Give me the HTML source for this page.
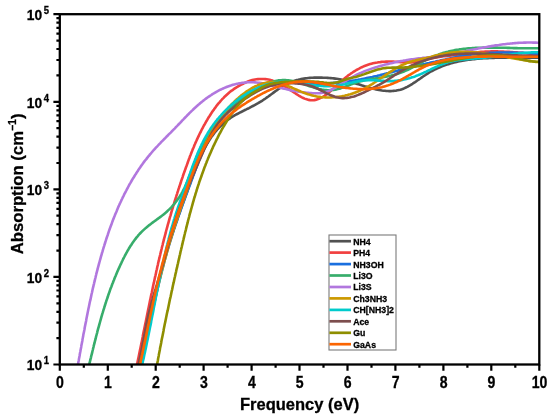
<!DOCTYPE html>
<html><head><meta charset="utf-8"><title>Absorption</title>
<style>html,body{margin:0;padding:0;background:#fff;width:550px;height:417px;overflow:hidden}svg{display:block}.t{font-family:"Liberation Sans",sans-serif;font-weight:bold;fill:#000;stroke:#000;stroke-width:.3px}</style>
</head><body>
<svg width="550" height="417" viewBox="0 0 550 417">
<defs><clipPath id="c"><rect x="59.8" y="14.2" width="479.5" height="350.3"/></clipPath></defs>
<g clip-path="url(#c)" fill="none" stroke-width="2.60" stroke-linejoin="round" stroke-linecap="round">
<path stroke="#515151" d="M138.6 372.0L139.0 370.5 139.3 369.1 139.6 367.6 140.0 366.2 140.3 364.7 140.6 363.3 141.0 361.8 141.3 360.3 141.6 358.9 141.9 357.4 142.2 356.0 142.6 354.5 142.9 353.1 143.2 351.6 143.5 350.1 143.8 348.7 144.2 347.2 144.5 345.7 144.8 344.3 145.1 342.8 145.4 341.3 145.7 339.9 146.0 338.4 146.3 336.9 146.7 335.5 147.0 334.0 147.3 332.5 147.6 331.1 147.9 329.6 148.2 328.1 148.5 326.7 148.8 325.2 149.2 323.7 149.5 322.3 149.8 320.8 150.1 319.3 150.4 317.9 150.7 316.4 151.0 314.9 151.4 313.4 151.7 312.0 152.0 310.5 152.3 309.0 152.6 307.6 153.0 306.1 153.3 304.6 153.6 303.2 153.9 301.7 154.3 300.2 154.6 298.8 154.9 297.3 155.2 295.8 155.6 294.4 155.9 292.9 156.3 291.4 156.6 290.0 156.9 288.5 157.3 287.1 157.6 285.6 158.0 284.1 158.3 282.7 158.7 281.2 159.0 279.8 159.4 278.3 159.8 276.9 160.1 275.4 160.5 274.0 160.9 272.5 161.2 271.0 161.6 269.6 162.0 268.1 162.4 266.7 162.8 265.3 163.2 263.8 163.6 262.4 164.0 260.9 164.4 259.5 164.8 258.0 165.2 256.6 165.6 255.2 166.0 253.7 166.4 252.3 166.8 250.9 167.3 249.4 167.7 248.0 168.1 246.6 168.6 245.2 169.0 243.7 169.5 242.3 169.9 240.9 170.4 239.5 170.8 238.0 171.3 236.6 171.8 235.2 172.2 233.8 172.7 232.4 173.2 231.0 173.7 229.5 174.1 228.1 174.6 226.7 175.1 225.3 175.6 223.9 176.1 222.5 176.6 221.1 177.1 219.7 177.6 218.2 178.1 216.8 178.6 215.4 179.1 214.0 179.6 212.6 180.1 211.2 180.6 209.8 181.1 208.4 181.6 207.0 182.1 205.5 182.6 204.1 183.1 202.7 183.6 201.3 184.1 199.9 184.6 198.5 185.2 197.1 185.7 195.6 186.2 194.2 186.7 192.8 187.2 191.4 187.7 190.0 188.2 188.5 188.7 187.1 189.2 185.7 189.8 184.3 190.3 182.8 190.8 181.4 191.3 180.0 191.8 178.6 192.4 177.2 192.9 175.7 193.4 174.3 193.9 172.9 194.5 171.5 195.0 170.1 195.6 168.7 196.1 167.3 196.7 165.9 197.3 164.5 197.8 163.1 198.4 161.7 199.0 160.3 199.6 159.0 200.2 157.6 200.8 156.2 201.5 154.9 202.1 153.5 202.7 152.2 203.4 150.9 204.0 149.5 204.7 148.2 205.4 146.9 206.1 145.6 206.8 144.3 207.6 143.1 208.3 141.8 209.1 140.5 209.9 139.3 210.7 138.0 211.5 136.8 212.4 135.6 213.3 134.4 214.2 133.2 215.2 132.0 216.1 130.9 217.1 129.7 218.2 128.6 219.2 127.5 220.3 126.4 221.4 125.3 222.5 124.3 223.6 123.2 224.8 122.2 226.0 121.3 227.2 120.3 228.4 119.4 229.6 118.6 230.8 117.7 232.1 116.9 233.3 116.2 234.6 115.4 235.9 114.7 237.2 114.0 238.5 113.3 239.8 112.6 241.1 112.0 242.4 111.3 243.7 110.7 245.0 110.0 246.3 109.4 247.7 108.7 249.0 108.1 250.3 107.4 251.6 106.7 252.9 106.0 254.2 105.3 255.5 104.6 256.8 103.9 258.1 103.2 259.4 102.4 260.7 101.6 262.0 100.8 263.2 100.0 264.5 99.2 265.8 98.3 267.0 97.4 268.3 96.5 269.5 95.6 270.7 94.7 272.0 93.8 273.2 92.9 274.5 91.9 275.7 91.0 277.0 90.1 278.2 89.2 279.5 88.4 280.7 87.5 282.0 86.7 283.3 85.9 284.6 85.2 285.9 84.4 287.2 83.8 288.6 83.1 289.9 82.5 291.3 82.0 292.6 81.5 294.0 81.0 295.4 80.5 296.8 80.1 298.2 79.8 299.6 79.4 301.1 79.1 302.5 78.8 304.0 78.6 305.4 78.4 306.9 78.2 308.3 78.0 309.8 77.9 311.3 77.8 312.8 77.7 314.2 77.6 315.7 77.6 317.2 77.6 318.7 77.6 320.2 77.6 321.7 77.6 323.2 77.7 324.7 77.7 326.2 77.8 327.7 77.9 329.2 78.0 330.7 78.1 332.2 78.3 333.7 78.4 335.2 78.6 336.7 78.8 338.2 79.0 339.7 79.3 341.1 79.6 342.6 79.9 344.1 80.2 345.5 80.6 347.0 80.9 348.5 81.3 349.9 81.7 351.4 82.1 352.8 82.6 354.3 83.0 355.7 83.4 357.2 83.9 358.6 84.3 360.1 84.8 361.5 85.3 363.0 85.7 364.4 86.2 365.9 86.6 367.3 87.0 368.8 87.5 370.2 87.9 371.7 88.3 373.2 88.7 374.6 89.0 376.1 89.4 377.6 89.7 379.0 90.0 380.5 90.2 382.0 90.5 383.4 90.7 384.9 90.8 386.3 91.0 387.8 91.0 389.2 91.1 390.7 91.1 392.1 91.0 393.5 90.9 394.9 90.8 396.3 90.6 397.7 90.3 399.1 90.0 400.5 89.7 401.9 89.2 403.2 88.7 404.6 88.1 405.9 87.5 407.3 86.9 408.6 86.1 409.9 85.4 411.2 84.6 412.5 83.8 413.8 82.9 415.1 82.1 416.4 81.2 417.7 80.3 419.0 79.4 420.3 78.5 421.5 77.6 422.8 76.7 424.1 75.8 425.4 75.0 426.7 74.1 428.0 73.3 429.3 72.5 430.6 71.7 432.0 71.0 433.3 70.3 434.6 69.6 435.9 69.0 437.3 68.3 438.6 67.7 440.0 67.2 441.4 66.6 442.7 66.1 444.1 65.6 445.5 65.1 446.9 64.6 448.3 64.2 449.7 63.7 451.1 63.3 452.5 62.9 453.9 62.6 455.3 62.2 456.7 61.9 458.2 61.6 459.6 61.3 461.1 61.0 462.5 60.7 464.0 60.5 465.4 60.2 466.9 60.0 468.4 59.8 469.9 59.6 471.3 59.4 472.8 59.2 474.3 59.1 475.8 58.9 477.3 58.8 478.8 58.7 480.3 58.5 481.8 58.4 483.3 58.3 484.8 58.2 486.4 58.2 487.9 58.1 489.4 58.0 490.9 58.0 492.4 57.9 493.9 57.9 495.5 57.8 497.0 57.8 498.5 57.8 500.0 57.7 501.6 57.7 503.1 57.7 504.6 57.7 506.1 57.7 507.6 57.7 509.2 57.7 510.7 57.7 512.2 57.7 513.7 57.7 515.2 57.7 516.7 57.7 518.2 57.7 519.7 57.7 521.3 57.7 522.8 57.7 524.3 57.7 525.7 57.7 527.2 57.7 528.7 57.7 530.2 57.7 531.7 57.7 533.2 57.6 534.6 57.6 536.1 57.6 537.6 57.6 539.0 57.5 540.5 57.5 541.9 57.4"/>
<path stroke="#F14040" d="M135.4 371.8L135.7 370.4 136.0 368.9 136.3 367.5 136.7 366.1 137.0 364.6 137.3 363.2 137.6 361.7 137.9 360.3 138.2 358.8 138.5 357.4 138.8 355.9 139.1 354.5 139.4 353.0 139.7 351.6 140.0 350.1 140.3 348.7 140.6 347.2 140.9 345.7 141.2 344.3 141.5 342.8 141.8 341.4 142.1 339.9 142.4 338.5 142.7 337.0 142.9 335.5 143.2 334.1 143.5 332.6 143.8 331.1 144.1 329.7 144.4 328.2 144.7 326.8 145.0 325.3 145.3 323.8 145.6 322.4 145.9 320.9 146.2 319.4 146.5 318.0 146.8 316.5 147.1 315.0 147.4 313.6 147.7 312.1 148.0 310.6 148.3 309.1 148.6 307.7 148.9 306.2 149.2 304.7 149.5 303.3 149.8 301.8 150.1 300.3 150.4 298.9 150.7 297.4 151.0 295.9 151.3 294.4 151.7 293.0 152.0 291.5 152.3 290.0 152.6 288.6 152.9 287.1 153.2 285.6 153.5 284.2 153.9 282.7 154.2 281.2 154.5 279.7 154.8 278.3 155.1 276.8 155.5 275.3 155.8 273.9 156.1 272.4 156.4 270.9 156.8 269.5 157.1 268.0 157.4 266.5 157.8 265.1 158.1 263.6 158.4 262.1 158.8 260.7 159.1 259.2 159.5 257.7 159.8 256.3 160.2 254.8 160.5 253.3 160.9 251.9 161.2 250.4 161.6 249.0 161.9 247.5 162.3 246.0 162.7 244.6 163.0 243.1 163.4 241.7 163.8 240.2 164.1 238.7 164.5 237.3 164.9 235.8 165.3 234.4 165.7 232.9 166.0 231.5 166.4 230.0 166.8 228.6 167.2 227.1 167.6 225.7 168.0 224.2 168.4 222.8 168.8 221.3 169.2 219.9 169.6 218.4 170.0 217.0 170.5 215.6 170.9 214.1 171.3 212.7 171.7 211.2 172.1 209.8 172.6 208.4 173.0 206.9 173.4 205.5 173.9 204.1 174.3 202.6 174.7 201.2 175.2 199.8 175.6 198.4 176.1 196.9 176.5 195.5 177.0 194.1 177.4 192.7 177.9 191.2 178.3 189.8 178.8 188.4 179.3 187.0 179.7 185.6 180.2 184.2 180.7 182.8 181.1 181.3 181.6 179.9 182.1 178.5 182.6 177.1 183.0 175.7 183.5 174.3 184.0 172.9 184.5 171.5 185.0 170.1 185.5 168.7 186.0 167.3 186.5 166.0 187.0 164.6 187.5 163.2 188.0 161.8 188.5 160.4 189.0 159.0 189.5 157.7 190.0 156.3 190.6 154.9 191.1 153.5 191.6 152.2 192.2 150.8 192.7 149.4 193.3 148.1 193.9 146.7 194.4 145.3 195.0 144.0 195.6 142.6 196.2 141.3 196.8 139.9 197.4 138.6 198.1 137.2 198.7 135.9 199.3 134.5 200.0 133.2 200.7 131.9 201.3 130.5 202.0 129.2 202.7 127.9 203.4 126.5 204.1 125.2 204.9 123.9 205.6 122.6 206.4 121.2 207.2 119.9 207.9 118.6 208.7 117.3 209.6 116.0 210.4 114.7 211.2 113.4 212.1 112.1 213.0 110.8 213.9 109.6 214.8 108.3 215.7 107.1 216.6 105.8 217.5 104.6 218.5 103.4 219.5 102.3 220.5 101.1 221.5 100.0 222.5 98.9 223.6 97.8 224.6 96.7 225.7 95.7 226.8 94.7 227.9 93.7 229.0 92.7 230.1 91.8 231.3 90.9 232.5 90.1 233.7 89.2 234.9 88.4 236.1 87.6 237.3 86.9 238.6 86.1 239.9 85.4 241.2 84.7 242.5 84.0 243.8 83.3 245.2 82.7 246.5 82.1 247.9 81.5 249.3 81.0 250.7 80.5 252.2 80.1 253.6 79.8 255.1 79.5 256.5 79.3 258.0 79.1 259.5 79.0 261.0 79.0 262.4 79.0 263.9 79.0 265.4 79.1 266.8 79.3 268.3 79.5 269.7 79.8 271.1 80.2 272.6 80.6 273.9 81.1 275.3 81.6 276.7 82.2 278.0 82.8 279.4 83.4 280.7 84.1 282.0 84.8 283.4 85.6 284.7 86.4 286.0 87.2 287.3 88.0 288.6 88.9 289.9 89.7 291.2 90.6 292.5 91.5 293.9 92.4 295.2 93.2 296.5 94.1 297.9 95.0 299.2 95.8 300.6 96.6 301.9 97.3 303.3 98.0 304.6 98.6 306.0 99.1 307.4 99.5 308.7 99.9 310.1 100.1 311.4 100.2 312.8 100.2 314.1 100.1 315.5 99.9 316.8 99.5 318.1 99.1 319.4 98.5 320.7 97.9 322.0 97.3 323.3 96.5 324.5 95.8 325.7 94.9 326.9 94.1 328.1 93.2 329.2 92.3 330.4 91.3 331.5 90.3 332.6 89.3 333.8 88.3 334.9 87.3 336.0 86.3 337.1 85.2 338.2 84.2 339.3 83.1 340.5 82.1 341.6 81.1 342.8 80.0 343.9 79.0 345.1 78.0 346.3 77.0 347.5 76.1 348.7 75.1 350.0 74.2 351.2 73.3 352.5 72.5 353.8 71.6 355.1 70.8 356.4 70.0 357.7 69.3 359.1 68.6 360.4 67.9 361.8 67.2 363.1 66.6 364.5 66.0 365.9 65.5 367.3 65.0 368.7 64.5 370.1 64.1 371.5 63.7 372.9 63.3 374.4 63.0 375.8 62.7 377.3 62.5 378.7 62.2 380.2 62.1 381.6 61.9 383.1 61.8 384.5 61.7 386.0 61.6 387.5 61.6 388.9 61.5 390.4 61.5 391.9 61.6 393.4 61.6 394.8 61.7 396.3 61.8 397.8 61.9 399.3 62.0 400.7 62.1 402.2 62.2 403.7 62.3 405.2 62.4 406.6 62.4 408.1 62.4 409.6 62.4 411.1 62.4 412.6 62.2 414.0 62.1 415.5 61.9 417.0 61.7 418.5 61.4 420.0 61.1 421.4 60.8 422.9 60.5 424.4 60.1 425.9 59.7 427.4 59.4 428.8 59.0 430.3 58.7 431.8 58.3 433.3 58.0 434.8 57.7 436.3 57.4 437.7 57.1 439.2 56.9 440.7 56.7 442.2 56.5 443.7 56.3 445.2 56.1 446.6 56.0 448.1 55.8 449.6 55.7 451.1 55.5 452.6 55.3 454.1 55.1 455.6 54.9 457.0 54.7 458.5 54.5 460.0 54.3 461.5 54.1 463.0 53.9 464.5 53.7 466.0 53.5 467.5 53.3 469.0 53.2 470.4 53.0 471.9 52.8 473.4 52.6 474.9 52.5 476.4 52.3 477.9 52.2 479.4 52.0 480.9 51.9 482.4 51.8 483.8 51.7 485.3 51.6 486.8 51.6 488.3 51.5 489.8 51.5 491.3 51.4 492.8 51.4 494.3 51.4 495.8 51.4 497.3 51.4 498.7 51.5 500.2 51.5 501.7 51.6 503.2 51.6 504.7 51.7 506.2 51.8 507.7 51.8 509.2 51.9 510.7 52.0 512.2 52.1 513.7 52.2 515.1 52.3 516.6 52.4 518.1 52.6 519.6 52.7 521.1 52.8 522.6 52.9 524.1 53.1 525.6 53.2 527.1 53.3 528.6 53.5 530.1 53.6 531.5 53.7 533.0 53.9 534.5 54.0 536.0 54.1 537.5 54.3 539.0 54.4 540.5 54.5 542.0 54.6"/>
<path stroke="#1A6FDF" d="M139.5 372.0L139.9 370.5 140.2 369.1 140.5 367.6 140.8 366.2 141.1 364.7 141.5 363.3 141.8 361.8 142.1 360.3 142.4 358.9 142.7 357.4 143.0 356.0 143.4 354.5 143.7 353.1 144.0 351.6 144.3 350.1 144.6 348.7 144.9 347.2 145.2 345.7 145.5 344.3 145.8 342.8 146.1 341.4 146.5 339.9 146.8 338.4 147.1 337.0 147.4 335.5 147.7 334.0 148.0 332.6 148.3 331.1 148.6 329.6 148.9 328.2 149.2 326.7 149.5 325.2 149.9 323.8 150.2 322.3 150.5 320.8 150.8 319.4 151.1 317.9 151.4 316.4 151.7 315.0 152.0 313.5 152.4 312.0 152.7 310.6 153.0 309.1 153.3 307.6 153.6 306.2 154.0 304.7 154.3 303.2 154.6 301.8 154.9 300.3 155.3 298.8 155.6 297.4 155.9 295.9 156.3 294.4 156.6 293.0 156.9 291.5 157.3 290.1 157.6 288.6 158.0 287.1 158.3 285.7 158.6 284.2 159.0 282.8 159.3 281.3 159.7 279.9 160.1 278.4 160.4 276.9 160.8 275.5 161.1 274.0 161.5 272.6 161.9 271.1 162.2 269.7 162.6 268.2 163.0 266.8 163.4 265.4 163.8 263.9 164.1 262.5 164.5 261.0 164.9 259.6 165.3 258.1 165.7 256.7 166.1 255.3 166.5 253.8 166.9 252.4 167.3 251.0 167.8 249.5 168.2 248.1 168.6 246.7 169.0 245.3 169.5 243.8 169.9 242.4 170.3 241.0 170.8 239.6 171.2 238.1 171.7 236.7 172.1 235.3 172.6 233.9 173.0 232.5 173.5 231.0 173.9 229.6 174.4 228.2 174.9 226.8 175.3 225.4 175.8 224.0 176.3 222.6 176.8 221.2 177.3 219.7 177.7 218.3 178.2 216.9 178.7 215.5 179.2 214.1 179.7 212.7 180.2 211.3 180.7 209.9 181.2 208.4 181.7 207.0 182.2 205.6 182.7 204.2 183.2 202.8 183.7 201.4 184.3 200.0 184.8 198.6 185.3 197.1 185.8 195.7 186.3 194.3 186.9 192.9 187.4 191.5 187.9 190.1 188.5 188.6 189.0 187.2 189.5 185.8 190.1 184.4 190.6 183.0 191.1 181.5 191.6 180.1 192.2 178.7 192.7 177.3 193.2 175.8 193.8 174.4 194.3 173.0 194.8 171.6 195.3 170.2 195.8 168.8 196.4 167.4 196.9 165.9 197.4 164.5 197.9 163.1 198.4 161.7 198.9 160.3 199.4 158.9 199.9 157.5 200.4 156.1 200.9 154.8 201.4 153.4 202.0 152.0 202.5 150.6 203.0 149.3 203.6 147.9 204.1 146.5 204.6 145.2 205.2 143.8 205.8 142.5 206.4 141.1 207.0 139.8 207.6 138.5 208.3 137.2 208.9 135.8 209.6 134.5 210.3 133.2 211.1 131.9 211.8 130.6 212.6 129.4 213.4 128.1 214.3 126.8 215.2 125.6 216.1 124.3 217.0 123.1 217.9 121.9 218.9 120.7 219.8 119.6 220.8 118.5 221.8 117.3 222.9 116.3 223.9 115.2 224.9 114.2 226.0 113.2 227.1 112.2 228.1 111.2 229.2 110.3 230.3 109.3 231.4 108.3 232.4 107.3 233.5 106.3 234.6 105.3 235.7 104.3 236.9 103.3 238.0 102.3 239.1 101.3 240.2 100.3 241.4 99.3 242.5 98.3 243.7 97.3 244.9 96.3 246.1 95.4 247.3 94.4 248.5 93.5 249.8 92.7 251.0 91.8 252.3 91.1 253.6 90.3 254.9 89.7 256.2 89.0 257.6 88.4 258.9 87.8 260.3 87.3 261.7 86.7 263.1 86.2 264.5 85.7 265.9 85.3 267.3 84.8 268.7 84.4 270.2 84.0 271.6 83.6 273.1 83.3 274.5 83.0 276.0 82.7 277.5 82.5 279.0 82.3 280.5 82.2 281.9 82.1 283.4 82.0 284.9 82.0 286.4 82.0 287.9 82.1 289.5 82.1 291.0 82.2 292.5 82.3 294.0 82.4 295.5 82.5 297.0 82.7 298.5 82.8 300.0 82.9 301.5 83.1 303.0 83.2 304.5 83.4 306.0 83.5 307.5 83.6 309.0 83.8 310.5 83.9 312.0 83.9 313.5 84.0 314.9 84.0 316.4 84.0 317.9 84.0 319.4 84.0 320.9 83.9 322.4 83.8 323.9 83.7 325.4 83.6 326.8 83.5 328.3 83.4 329.8 83.2 331.3 83.1 332.8 83.0 334.2 82.8 335.7 82.7 337.2 82.5 338.7 82.4 340.1 82.2 341.6 82.0 343.1 81.9 344.6 81.7 346.0 81.5 347.5 81.3 349.0 81.1 350.5 80.9 351.9 80.7 353.4 80.5 354.9 80.3 356.3 80.0 357.8 79.8 359.3 79.5 360.7 79.3 362.2 79.0 363.7 78.7 365.1 78.4 366.6 78.1 368.1 77.8 369.5 77.5 371.0 77.2 372.4 76.9 373.9 76.5 375.4 76.2 376.8 75.9 378.3 75.5 379.8 75.2 381.2 74.8 382.7 74.4 384.1 74.1 385.6 73.7 387.1 73.3 388.5 73.0 390.0 72.6 391.4 72.2 392.9 71.8 394.4 71.5 395.8 71.1 397.3 70.7 398.7 70.3 400.2 70.0 401.6 69.6 403.1 69.2 404.6 68.8 406.0 68.5 407.5 68.1 408.9 67.7 410.4 67.4 411.8 67.0 413.3 66.7 414.8 66.3 416.2 66.0 417.7 65.6 419.1 65.3 420.6 65.0 422.0 64.6 423.5 64.3 425.0 64.0 426.4 63.6 427.9 63.3 429.3 63.0 430.8 62.6 432.3 62.3 433.7 62.0 435.2 61.7 436.6 61.3 438.1 61.0 439.6 60.7 441.0 60.3 442.5 60.0 443.9 59.7 445.4 59.4 446.9 59.0 448.3 58.7 449.8 58.4 451.3 58.1 452.7 57.8 454.2 57.5 455.7 57.2 457.1 56.9 458.6 56.6 460.1 56.3 461.5 56.1 463.0 55.8 464.5 55.6 465.9 55.3 467.4 55.1 468.9 54.9 470.4 54.7 471.8 54.5 473.3 54.3 474.8 54.1 476.2 53.9 477.7 53.8 479.2 53.7 480.7 53.5 482.2 53.4 483.6 53.3 485.1 53.2 486.6 53.1 488.1 53.0 489.6 52.9 491.0 52.8 492.5 52.8 494.0 52.7 495.5 52.7 497.0 52.6 498.5 52.6 500.0 52.6 501.5 52.6 502.9 52.5 504.4 52.5 505.9 52.5 507.4 52.5 508.9 52.6 510.4 52.6 511.9 52.6 513.4 52.6 514.9 52.7 516.4 52.7 517.9 52.7 519.4 52.8 520.9 52.8 522.4 52.9 523.9 53.0 525.5 53.0 527.0 53.1 528.5 53.2 530.0 53.2 531.5 53.3 533.0 53.4 534.5 53.5 536.1 53.5 537.6 53.6 539.1 53.7 540.6 53.8 542.2 53.9"/>
<path stroke="#37AD6B" d="M87.5 372.0L87.8 370.5 88.2 369.0 88.5 367.6 88.9 366.1 89.2 364.6 89.6 363.2 89.9 361.7 90.3 360.2 90.6 358.8 91.0 357.3 91.3 355.8 91.7 354.4 92.1 352.9 92.4 351.5 92.8 350.0 93.1 348.5 93.5 347.1 93.8 345.6 94.2 344.2 94.6 342.7 94.9 341.3 95.3 339.8 95.7 338.4 96.0 336.9 96.4 335.5 96.8 334.0 97.2 332.6 97.5 331.1 97.9 329.7 98.3 328.2 98.7 326.8 99.1 325.3 99.5 323.9 99.9 322.5 100.3 321.0 100.7 319.6 101.1 318.2 101.5 316.7 101.9 315.3 102.3 313.9 102.8 312.4 103.2 311.0 103.6 309.6 104.1 308.2 104.5 306.7 105.0 305.3 105.4 303.9 105.9 302.5 106.3 301.0 106.8 299.6 107.3 298.2 107.8 296.8 108.2 295.4 108.7 294.0 109.2 292.6 109.7 291.2 110.2 289.7 110.7 288.3 111.3 286.9 111.8 285.5 112.3 284.1 112.9 282.7 113.4 281.3 114.0 279.9 114.5 278.5 115.1 277.1 115.7 275.7 116.2 274.4 116.8 273.0 117.4 271.6 118.0 270.2 118.6 268.8 119.3 267.4 119.9 266.0 120.5 264.7 121.2 263.3 121.8 261.9 122.5 260.5 123.1 259.2 123.8 257.8 124.5 256.5 125.2 255.1 125.9 253.8 126.7 252.4 127.4 251.1 128.2 249.8 128.9 248.5 129.7 247.2 130.5 245.9 131.4 244.7 132.2 243.4 133.0 242.2 133.9 241.0 134.8 239.8 135.7 238.6 136.6 237.4 137.6 236.3 138.5 235.1 139.5 234.0 140.5 233.0 141.6 231.9 142.6 230.9 143.7 229.9 144.8 228.9 145.9 227.9 147.0 227.0 148.2 226.0 149.3 225.1 150.5 224.2 151.7 223.3 152.9 222.4 154.1 221.5 155.3 220.7 156.5 219.8 157.7 218.9 158.9 218.0 160.1 217.1 161.3 216.2 162.5 215.3 163.6 214.4 164.8 213.4 165.9 212.5 167.0 211.5 168.1 210.4 169.2 209.4 170.3 208.3 171.3 207.3 172.3 206.2 173.3 205.0 174.3 203.9 175.2 202.7 176.1 201.5 177.0 200.3 177.9 199.1 178.8 197.9 179.6 196.6 180.4 195.3 181.2 194.1 181.9 192.8 182.6 191.5 183.3 190.1 184.0 188.8 184.7 187.5 185.3 186.1 185.9 184.7 186.5 183.4 187.1 182.0 187.7 180.6 188.3 179.2 188.8 177.8 189.4 176.4 189.9 175.0 190.4 173.6 191.0 172.2 191.5 170.8 192.1 169.4 192.6 168.0 193.2 166.6 193.7 165.2 194.3 163.8 194.8 162.4 195.4 161.0 196.0 159.6 196.6 158.2 197.1 156.8 197.7 155.4 198.3 154.0 199.0 152.6 199.6 151.3 200.2 149.9 200.8 148.5 201.5 147.2 202.2 145.8 202.8 144.5 203.5 143.2 204.2 141.8 204.9 140.5 205.6 139.2 206.3 137.9 207.1 136.6 207.8 135.3 208.6 134.0 209.4 132.8 210.2 131.5 211.0 130.3 211.8 129.1 212.7 127.9 213.5 126.7 214.4 125.5 215.3 124.3 216.2 123.1 217.2 122.0 218.1 120.9 219.1 119.7 220.1 118.6 221.1 117.6 222.1 116.5 223.1 115.4 224.2 114.4 225.3 113.3 226.3 112.3 227.4 111.3 228.5 110.3 229.6 109.3 230.8 108.3 231.9 107.3 233.1 106.3 234.2 105.4 235.4 104.4 236.5 103.4 237.7 102.5 238.9 101.5 240.1 100.6 241.3 99.7 242.5 98.7 243.7 97.8 244.9 96.9 246.2 96.0 247.4 95.2 248.6 94.3 249.9 93.5 251.1 92.7 252.4 91.9 253.7 91.1 255.0 90.4 256.3 89.6 257.6 88.9 258.9 88.1 260.2 87.4 261.6 86.6 262.9 85.9 264.3 85.2 265.6 84.5 267.0 83.9 268.4 83.3 269.8 82.7 271.1 82.2 272.5 81.7 274.0 81.3 275.4 81.0 276.8 80.7 278.2 80.4 279.6 80.3 281.1 80.2 282.5 80.1 283.9 80.1 285.4 80.1 286.8 80.2 288.3 80.4 289.7 80.6 291.2 80.8 292.7 81.1 294.1 81.4 295.6 81.7 297.0 82.1 298.5 82.5 300.0 82.9 301.5 83.4 302.9 83.9 304.4 84.4 305.9 84.9 307.3 85.4 308.8 85.9 310.3 86.4 311.7 86.8 313.2 87.3 314.7 87.8 316.1 88.2 317.6 88.6 319.0 89.0 320.5 89.3 321.9 89.6 323.4 89.8 324.8 90.0 326.3 90.1 327.7 90.2 329.1 90.2 330.6 90.1 332.0 90.0 333.4 89.9 334.9 89.7 336.3 89.4 337.7 89.1 339.1 88.8 340.6 88.4 342.0 87.9 343.4 87.4 344.9 86.9 346.3 86.3 347.8 85.7 349.2 85.2 350.6 84.6 352.1 84.0 353.5 83.5 355.0 83.0 356.4 82.5 357.9 82.0 359.4 81.6 360.8 81.2 362.3 80.9 363.8 80.5 365.2 80.2 366.7 79.9 368.2 79.7 369.6 79.4 371.1 79.1 372.6 78.9 374.1 78.7 375.5 78.4 377.0 78.2 378.4 78.0 379.9 77.7 381.3 77.5 382.8 77.3 384.2 77.0 385.7 76.7 387.1 76.4 388.5 76.1 389.9 75.8 391.4 75.5 392.8 75.1 394.2 74.8 395.6 74.4 397.0 74.0 398.4 73.5 399.7 73.1 401.1 72.6 402.5 72.1 403.9 71.5 405.3 70.9 406.6 70.3 408.0 69.7 409.4 69.1 410.7 68.4 412.1 67.7 413.5 66.9 414.8 66.2 416.2 65.4 417.6 64.6 418.9 63.9 420.3 63.1 421.6 62.3 423.0 61.6 424.4 60.8 425.7 60.1 427.1 59.4 428.4 58.7 429.8 58.1 431.2 57.4 432.5 56.8 433.9 56.3 435.3 55.7 436.7 55.2 438.1 54.7 439.4 54.2 440.8 53.7 442.2 53.3 443.6 52.8 445.0 52.4 446.4 52.0 447.9 51.7 449.3 51.3 450.7 51.0 452.2 50.7 453.6 50.4 455.0 50.1 456.5 49.9 457.9 49.7 459.4 49.4 460.9 49.2 462.3 49.0 463.8 48.8 465.3 48.7 466.8 48.5 468.3 48.4 469.8 48.3 471.3 48.2 472.7 48.0 474.2 48.0 475.7 47.9 477.3 47.8 478.8 47.8 480.3 47.7 481.8 47.7 483.3 47.6 484.8 47.6 486.3 47.6 487.8 47.6 489.4 47.6 490.9 47.6 492.4 47.6 493.9 47.6 495.4 47.6 497.0 47.6 498.5 47.7 500.0 47.7 501.5 47.7 503.1 47.8 504.6 47.8 506.1 47.8 507.6 47.9 509.1 47.9 510.7 48.0 512.2 48.0 513.7 48.1 515.2 48.1 516.7 48.1 518.2 48.2 519.7 48.2 521.2 48.2 522.7 48.3 524.2 48.3 525.7 48.3 527.2 48.3 528.7 48.3 530.2 48.3 531.7 48.3 533.1 48.3 534.6 48.3 536.1 48.3 537.6 48.2 539.0 48.2 540.5 48.1 541.9 48.1"/>
<path stroke="#B177DE" d="M76.6 372.0L76.9 370.5 77.1 369.0 77.4 367.5 77.7 366.1 78.0 364.6 78.2 363.1 78.5 361.6 78.8 360.2 79.0 358.7 79.3 357.2 79.6 355.7 79.8 354.3 80.1 352.8 80.4 351.3 80.6 349.9 80.9 348.4 81.2 346.9 81.4 345.4 81.7 344.0 82.0 342.5 82.3 341.0 82.5 339.5 82.8 338.1 83.1 336.6 83.3 335.1 83.6 333.6 83.9 332.2 84.2 330.7 84.5 329.2 84.7 327.8 85.0 326.3 85.3 324.8 85.6 323.3 85.9 321.9 86.2 320.4 86.4 318.9 86.7 317.5 87.0 316.0 87.3 314.5 87.6 313.1 87.9 311.6 88.2 310.1 88.5 308.6 88.8 307.2 89.1 305.7 89.4 304.2 89.7 302.8 90.0 301.3 90.4 299.9 90.7 298.4 91.0 296.9 91.3 295.5 91.6 294.0 92.0 292.5 92.3 291.1 92.6 289.6 92.9 288.2 93.3 286.7 93.6 285.2 94.0 283.8 94.3 282.3 94.7 280.9 95.0 279.4 95.4 278.0 95.7 276.5 96.1 275.0 96.4 273.6 96.8 272.1 97.2 270.7 97.6 269.2 97.9 267.8 98.3 266.3 98.7 264.9 99.1 263.4 99.5 262.0 99.9 260.5 100.3 259.1 100.7 257.7 101.1 256.2 101.5 254.8 101.9 253.3 102.4 251.9 102.8 250.4 103.2 249.0 103.6 247.6 104.1 246.1 104.5 244.7 105.0 243.3 105.4 241.8 105.9 240.4 106.3 239.0 106.8 237.5 107.3 236.1 107.8 234.7 108.2 233.3 108.7 231.8 109.2 230.4 109.7 229.0 110.2 227.6 110.7 226.2 111.3 224.8 111.8 223.3 112.3 221.9 112.8 220.5 113.4 219.1 113.9 217.7 114.5 216.3 115.0 214.9 115.6 213.5 116.2 212.2 116.8 210.8 117.3 209.4 117.9 208.0 118.5 206.6 119.1 205.3 119.7 203.9 120.4 202.5 121.0 201.2 121.6 199.8 122.3 198.5 122.9 197.1 123.6 195.8 124.2 194.4 124.9 193.1 125.6 191.8 126.3 190.5 127.0 189.1 127.7 187.8 128.4 186.5 129.1 185.2 129.8 183.9 130.6 182.6 131.3 181.3 132.1 180.0 132.8 178.7 133.6 177.5 134.4 176.2 135.2 174.9 136.0 173.7 136.8 172.4 137.6 171.2 138.4 169.9 139.2 168.7 140.1 167.5 140.9 166.3 141.8 165.0 142.7 163.8 143.5 162.6 144.4 161.4 145.3 160.3 146.3 159.1 147.2 157.9 148.1 156.7 149.1 155.6 150.0 154.4 151.0 153.3 151.9 152.2 152.9 151.0 153.9 149.9 154.9 148.8 155.9 147.7 157.0 146.6 158.0 145.5 159.0 144.4 160.1 143.3 161.1 142.2 162.2 141.1 163.2 140.1 164.3 139.0 165.4 137.9 166.4 136.8 167.5 135.8 168.5 134.7 169.6 133.6 170.7 132.6 171.7 131.5 172.8 130.4 173.8 129.4 174.9 128.3 175.9 127.2 177.0 126.1 178.0 125.0 179.0 124.0 180.1 122.9 181.1 121.8 182.1 120.7 183.2 119.6 184.2 118.5 185.2 117.5 186.3 116.4 187.3 115.3 188.4 114.3 189.4 113.2 190.5 112.1 191.5 111.1 192.6 110.1 193.7 109.0 194.8 108.0 195.9 107.0 197.0 106.0 198.1 105.0 199.3 104.0 200.4 103.0 201.6 102.1 202.7 101.1 203.9 100.2 205.1 99.3 206.3 98.4 207.5 97.5 208.8 96.6 210.0 95.8 211.3 95.0 212.5 94.1 213.8 93.4 215.1 92.6 216.4 91.8 217.7 91.1 219.0 90.4 220.4 89.7 221.7 89.1 223.1 88.5 224.5 87.9 225.9 87.3 227.2 86.7 228.7 86.2 230.1 85.7 231.5 85.3 232.9 84.8 234.4 84.4 235.8 84.1 237.3 83.7 238.7 83.4 240.2 83.2 241.7 82.9 243.1 82.7 244.6 82.6 246.1 82.4 247.6 82.3 249.1 82.3 250.5 82.2 252.0 82.3 253.5 82.3 255.0 82.4 256.4 82.5 257.9 82.7 259.4 82.9 260.9 83.1 262.3 83.3 263.8 83.6 265.3 83.9 266.7 84.2 268.2 84.6 269.7 84.9 271.1 85.3 272.6 85.7 274.1 86.1 275.5 86.4 277.0 86.8 278.5 87.2 279.9 87.6 281.4 88.0 282.9 88.4 284.4 88.8 285.9 89.1 287.4 89.5 288.8 89.8 290.3 90.2 291.8 90.5 293.3 90.8 294.8 91.0 296.3 91.3 297.8 91.6 299.3 91.8 300.8 92.0 302.3 92.2 303.8 92.4 305.3 92.6 306.8 92.8 308.3 92.9 309.7 93.0 311.2 93.1 312.7 93.2 314.1 93.3 315.6 93.3 317.0 93.3 318.5 93.2 319.9 93.1 321.3 92.9 322.7 92.7 324.1 92.4 325.5 92.1 326.8 91.6 328.2 91.1 329.5 90.6 330.9 90.0 332.2 89.3 333.5 88.6 334.8 87.9 336.1 87.1 337.4 86.3 338.7 85.5 340.0 84.7 341.3 83.8 342.6 83.0 343.9 82.2 345.2 81.3 346.5 80.5 347.8 79.7 349.1 78.9 350.4 78.1 351.8 77.3 353.1 76.6 354.5 75.9 355.8 75.2 357.2 74.5 358.5 73.9 359.9 73.3 361.3 72.7 362.6 72.1 364.0 71.5 365.4 70.9 366.8 70.4 368.2 69.9 369.6 69.4 371.0 68.9 372.4 68.4 373.8 67.9 375.2 67.5 376.7 67.1 378.1 66.6 379.5 66.2 381.0 65.8 382.4 65.4 383.8 65.0 385.3 64.6 386.7 64.3 388.2 63.9 389.6 63.5 391.1 63.2 392.5 62.9 394.0 62.5 395.5 62.2 396.9 61.9 398.4 61.6 399.8 61.3 401.3 61.0 402.8 60.8 404.2 60.5 405.7 60.3 407.2 60.0 408.6 59.8 410.1 59.6 411.6 59.4 413.0 59.2 414.5 59.0 416.0 58.8 417.4 58.6 418.9 58.4 420.4 58.2 421.9 58.1 423.3 57.9 424.8 57.7 426.3 57.6 427.8 57.4 429.2 57.2 430.7 57.0 432.2 56.9 433.7 56.7 435.1 56.5 436.6 56.3 438.1 56.1 439.6 55.9 441.0 55.7 442.5 55.5 444.0 55.3 445.5 55.0 446.9 54.8 448.4 54.5 449.9 54.3 451.4 54.0 452.9 53.7 454.3 53.5 455.8 53.2 457.3 52.9 458.8 52.6 460.3 52.3 461.7 52.0 463.2 51.7 464.7 51.4 466.2 51.1 467.7 50.7 469.1 50.4 470.6 50.1 472.1 49.8 473.6 49.5 475.1 49.2 476.6 48.9 478.0 48.6 479.5 48.3 481.0 48.0 482.5 47.7 484.0 47.4 485.5 47.2 486.9 46.9 488.4 46.6 489.9 46.4 491.4 46.1 492.9 45.9 494.4 45.6 495.8 45.4 497.3 45.2 498.8 45.0 500.3 44.7 501.8 44.5 503.3 44.3 504.7 44.2 506.2 44.0 507.7 43.8 509.2 43.7 510.7 43.5 512.2 43.4 513.7 43.2 515.1 43.1 516.6 43.0 518.1 42.9 519.6 42.8 521.1 42.7 522.6 42.7 524.0 42.6 525.5 42.6 527.0 42.5 528.5 42.5 530.0 42.5 531.5 42.5 533.0 42.6 534.4 42.6 535.9 42.6 537.4 42.7 538.9 42.8 540.4 42.9 541.9 43.0"/>
<path stroke="#CC9900" d="M139.5 372.1L139.8 370.6 140.2 369.1 140.5 367.6 140.8 366.2 141.1 364.7 141.4 363.2 141.7 361.7 142.0 360.2 142.3 358.7 142.6 357.2 142.9 355.8 143.2 354.3 143.5 352.8 143.8 351.3 144.1 349.9 144.4 348.4 144.7 346.9 145.0 345.4 145.3 344.0 145.6 342.5 145.9 341.0 146.2 339.6 146.5 338.1 146.8 336.6 147.1 335.2 147.4 333.7 147.7 332.2 148.1 330.8 148.4 329.3 148.7 327.8 149.0 326.4 149.3 324.9 149.6 323.5 149.9 322.0 150.2 320.5 150.6 319.1 150.9 317.6 151.2 316.2 151.5 314.7 151.8 313.3 152.1 311.8 152.5 310.4 152.8 308.9 153.1 307.5 153.4 306.0 153.8 304.6 154.1 303.1 154.4 301.7 154.8 300.2 155.1 298.8 155.4 297.3 155.8 295.9 156.1 294.4 156.4 293.0 156.8 291.6 157.1 290.1 157.5 288.7 157.8 287.2 158.2 285.8 158.5 284.3 158.9 282.9 159.2 281.5 159.6 280.0 159.9 278.6 160.3 277.1 160.6 275.7 161.0 274.3 161.4 272.8 161.7 271.4 162.1 269.9 162.5 268.5 162.9 267.1 163.2 265.6 163.6 264.2 164.0 262.7 164.4 261.3 164.8 259.9 165.2 258.4 165.6 257.0 166.0 255.6 166.4 254.1 166.8 252.7 167.2 251.2 167.6 249.8 168.0 248.4 168.4 246.9 168.8 245.5 169.2 244.0 169.7 242.6 170.1 241.2 170.5 239.7 170.9 238.3 171.4 236.9 171.8 235.4 172.3 234.0 172.7 232.5 173.1 231.1 173.6 229.7 174.1 228.2 174.5 226.8 175.0 225.3 175.4 223.9 175.9 222.5 176.4 221.0 176.9 219.6 177.3 218.1 177.8 216.7 178.3 215.2 178.8 213.8 179.3 212.4 179.8 210.9 180.2 209.5 180.7 208.1 181.2 206.6 181.7 205.2 182.2 203.8 182.7 202.3 183.2 200.9 183.8 199.5 184.3 198.0 184.8 196.6 185.3 195.2 185.8 193.7 186.3 192.3 186.8 190.9 187.4 189.5 187.9 188.1 188.4 186.6 188.9 185.2 189.4 183.8 190.0 182.4 190.5 181.0 191.0 179.6 191.6 178.2 192.1 176.8 192.6 175.4 193.1 174.0 193.7 172.6 194.2 171.2 194.7 169.8 195.3 168.4 195.8 167.0 196.3 165.6 196.9 164.3 197.4 162.9 197.9 161.5 198.5 160.1 199.0 158.8 199.6 157.4 200.1 156.1 200.7 154.7 201.2 153.3 201.8 152.0 202.4 150.6 203.0 149.3 203.6 148.0 204.2 146.6 204.8 145.3 205.4 144.0 206.0 142.6 206.6 141.3 207.3 140.0 207.9 138.7 208.6 137.4 209.2 136.1 209.9 134.8 210.6 133.5 211.3 132.2 212.0 130.9 212.8 129.6 213.5 128.4 214.3 127.1 215.1 125.8 215.9 124.6 216.7 123.3 217.5 122.1 218.3 120.8 219.2 119.6 220.0 118.3 220.9 117.1 221.8 115.9 222.7 114.7 223.7 113.5 224.6 112.3 225.6 111.1 226.6 109.9 227.6 108.8 228.6 107.6 229.6 106.5 230.7 105.3 231.7 104.2 232.8 103.1 233.9 102.1 235.0 101.0 236.1 100.0 237.2 98.9 238.4 97.9 239.5 96.9 240.7 95.9 241.9 95.0 243.1 94.1 244.3 93.2 245.5 92.3 246.7 91.4 248.0 90.6 249.2 89.8 250.5 89.0 251.8 88.2 253.1 87.5 254.4 86.8 255.7 86.2 257.1 85.6 258.4 85.0 259.8 84.5 261.1 84.0 262.5 83.6 263.9 83.2 265.3 82.9 266.7 82.6 268.1 82.3 269.5 82.2 271.0 82.0 272.4 82.0 273.9 82.0 275.3 82.1 276.8 82.3 278.2 82.5 279.7 82.8 281.1 83.3 282.6 83.7 284.0 84.3 285.4 84.9 286.9 85.5 288.3 86.1 289.7 86.7 291.1 87.3 292.6 88.0 294.0 88.6 295.4 89.2 296.8 89.8 298.2 90.4 299.6 91.0 301.0 91.6 302.4 92.1 303.8 92.7 305.2 93.2 306.6 93.7 308.0 94.2 309.4 94.6 310.8 95.0 312.3 95.4 313.7 95.8 315.2 96.1 316.6 96.4 318.1 96.7 319.5 96.9 321.0 97.1 322.5 97.2 323.9 97.3 325.4 97.4 326.9 97.5 328.4 97.5 329.9 97.5 331.3 97.4 332.8 97.3 334.3 97.2 335.8 97.1 337.3 96.9 338.8 96.7 340.2 96.5 341.7 96.3 343.2 96.0 344.6 95.7 346.1 95.3 347.5 95.0 349.0 94.6 350.4 94.2 351.9 93.7 353.3 93.2 354.7 92.7 356.1 92.2 357.5 91.7 358.9 91.1 360.3 90.5 361.6 89.9 363.0 89.2 364.3 88.6 365.7 87.9 367.0 87.2 368.3 86.4 369.5 85.7 370.8 84.9 372.1 84.1 373.3 83.3 374.6 82.5 375.8 81.7 377.1 80.9 378.3 80.0 379.5 79.2 380.7 78.3 382.0 77.5 383.2 76.6 384.4 75.8 385.7 74.9 386.9 74.1 388.2 73.2 389.4 72.4 390.7 71.6 392.0 70.8 393.2 70.0 394.5 69.2 395.9 68.4 397.2 67.7 398.5 66.9 399.9 66.2 401.2 65.5 402.6 64.9 404.0 64.3 405.3 63.7 406.7 63.1 408.1 62.5 409.5 62.0 410.9 61.6 412.3 61.1 413.7 60.7 415.2 60.4 416.6 60.0 418.0 59.7 419.4 59.4 420.8 59.1 422.3 58.8 423.7 58.5 425.2 58.2 426.6 57.9 428.0 57.6 429.5 57.2 430.9 56.9 432.4 56.5 433.8 56.1 435.3 55.7 436.8 55.3 438.2 55.0 439.7 54.6 441.1 54.3 442.6 54.0 444.1 53.7 445.6 53.5 447.0 53.2 448.5 53.0 450.0 52.8 451.5 52.6 452.9 52.5 454.4 52.3 455.9 52.2 457.4 52.1 458.9 52.0 460.4 51.9 461.9 51.9 463.3 51.9 464.8 51.9 466.3 51.9 467.8 51.9 469.3 52.0 470.8 52.1 472.3 52.1 473.8 52.2 475.3 52.4 476.8 52.5 478.3 52.6 479.8 52.8 481.3 53.0 482.8 53.1 484.3 53.3 485.8 53.5 487.3 53.7 488.8 54.0 490.2 54.2 491.7 54.4 493.2 54.7 494.7 54.9 496.2 55.2 497.7 55.5 499.2 55.7 500.7 56.0 502.2 56.3 503.7 56.5 505.2 56.8 506.7 57.1 508.1 57.4 509.6 57.6 511.1 57.9 512.6 58.2 514.1 58.5 515.5 58.7 517.0 59.0 518.5 59.3 520.0 59.5 521.4 59.8 522.9 60.0 524.4 60.3 525.8 60.5 527.3 60.7 528.8 60.9 530.2 61.1 531.7 61.3 533.1 61.5 534.6 61.7 536.0 61.9 537.5 62.0 538.9 62.1 540.4 62.3 541.8 62.4"/>
<path stroke="#00CBCC" d="M140.5 371.9L140.8 370.5 141.1 369.0 141.5 367.6 141.8 366.1 142.2 364.7 142.5 363.2 142.8 361.8 143.1 360.3 143.5 358.9 143.8 357.4 144.1 356.0 144.4 354.5 144.8 353.0 145.1 351.6 145.4 350.1 145.7 348.7 146.0 347.2 146.3 345.7 146.6 344.3 146.9 342.8 147.2 341.3 147.5 339.9 147.8 338.4 148.1 336.9 148.4 335.5 148.7 334.0 149.0 332.5 149.3 331.0 149.6 329.6 149.9 328.1 150.2 326.6 150.5 325.2 150.8 323.7 151.1 322.2 151.3 320.7 151.6 319.3 151.9 317.8 152.2 316.3 152.5 314.8 152.8 313.4 153.1 311.9 153.4 310.4 153.6 308.9 153.9 307.5 154.2 306.0 154.5 304.5 154.8 303.0 155.1 301.6 155.4 300.1 155.7 298.6 155.9 297.1 156.2 295.7 156.5 294.2 156.8 292.7 157.1 291.2 157.4 289.8 157.7 288.3 158.0 286.8 158.3 285.3 158.6 283.9 158.9 282.4 159.2 280.9 159.5 279.5 159.8 278.0 160.1 276.5 160.4 275.1 160.7 273.6 161.0 272.1 161.3 270.7 161.6 269.2 161.9 267.7 162.3 266.3 162.6 264.8 162.9 263.4 163.2 261.9 163.5 260.4 163.9 259.0 164.2 257.5 164.5 256.1 164.9 254.6 165.2 253.2 165.5 251.7 165.9 250.3 166.2 248.8 166.6 247.4 166.9 245.9 167.3 244.5 167.6 243.0 168.0 241.6 168.4 240.1 168.7 238.7 169.1 237.3 169.5 235.8 169.9 234.4 170.3 232.9 170.6 231.5 171.0 230.1 171.4 228.6 171.8 227.2 172.3 225.8 172.7 224.3 173.1 222.9 173.5 221.5 173.9 220.0 174.4 218.6 174.8 217.2 175.3 215.8 175.7 214.3 176.2 212.9 176.7 211.5 177.1 210.1 177.6 208.6 178.1 207.2 178.6 205.8 179.1 204.4 179.6 202.9 180.1 201.5 180.6 200.1 181.2 198.7 181.7 197.2 182.2 195.8 182.7 194.4 183.2 193.0 183.7 191.5 184.2 190.1 184.7 188.7 185.2 187.3 185.7 185.8 186.2 184.4 186.7 183.0 187.2 181.6 187.7 180.2 188.2 178.7 188.7 177.3 189.2 175.9 189.7 174.5 190.2 173.1 190.6 171.7 191.2 170.3 191.7 168.9 192.2 167.4 192.7 166.0 193.2 164.6 193.7 163.3 194.2 161.9 194.8 160.5 195.3 159.1 195.9 157.7 196.4 156.3 197.0 155.0 197.5 153.6 198.1 152.2 198.7 150.9 199.3 149.5 199.9 148.2 200.5 146.8 201.2 145.5 201.8 144.1 202.5 142.8 203.1 141.5 203.8 140.2 204.5 138.9 205.2 137.6 206.0 136.3 206.7 135.0 207.5 133.7 208.2 132.4 209.0 131.1 209.8 129.9 210.6 128.6 211.5 127.4 212.3 126.2 213.2 124.9 214.1 123.7 215.0 122.5 215.9 121.3 216.9 120.1 217.8 118.9 218.8 117.8 219.8 116.6 220.8 115.5 221.8 114.3 222.9 113.2 223.9 112.1 225.0 111.0 226.0 109.9 227.1 108.9 228.2 107.8 229.3 106.8 230.5 105.7 231.6 104.7 232.8 103.7 233.9 102.8 235.1 101.8 236.3 100.9 237.5 99.9 238.7 99.0 239.9 98.1 241.2 97.3 242.4 96.4 243.7 95.6 244.9 94.8 246.2 94.0 247.5 93.2 248.8 92.4 250.1 91.7 251.4 91.0 252.7 90.3 254.1 89.6 255.4 89.0 256.8 88.4 258.1 87.8 259.5 87.2 260.9 86.6 262.2 86.1 263.6 85.6 265.0 85.1 266.4 84.7 267.8 84.3 269.2 83.9 270.7 83.5 272.1 83.2 273.5 82.9 275.0 82.6 276.4 82.4 277.8 82.2 279.3 82.0 280.7 81.9 282.2 81.8 283.7 81.8 285.1 81.7 286.6 81.8 288.1 81.8 289.6 81.9 291.0 82.0 292.5 82.2 294.0 82.3 295.5 82.5 297.0 82.7 298.5 82.9 300.0 83.2 301.5 83.4 303.0 83.6 304.5 83.9 306.0 84.1 307.5 84.4 309.0 84.6 310.5 84.8 312.0 85.0 313.5 85.2 315.0 85.4 316.4 85.6 317.9 85.7 319.4 85.8 320.9 85.9 322.4 86.0 323.9 86.1 325.4 86.1 326.9 86.1 328.4 86.1 329.9 86.1 331.4 86.0 332.9 85.9 334.4 85.8 335.8 85.7 337.3 85.5 338.8 85.3 340.3 85.0 341.8 84.8 343.3 84.5 344.8 84.2 346.3 83.8 347.7 83.5 349.2 83.1 350.7 82.8 352.2 82.5 353.7 82.1 355.2 81.8 356.6 81.5 358.1 81.2 359.6 80.9 361.1 80.7 362.6 80.5 364.1 80.4 365.5 80.2 367.0 80.2 368.5 80.1 370.0 80.1 371.5 80.1 372.9 80.2 374.4 80.3 375.9 80.4 377.4 80.5 378.9 80.6 380.3 80.7 381.8 80.8 383.3 80.9 384.7 81.0 386.2 81.0 387.7 81.1 389.1 81.1 390.6 81.1 392.1 81.1 393.5 81.0 395.0 80.9 396.4 80.8 397.9 80.6 399.3 80.4 400.8 80.2 402.2 79.9 403.7 79.6 405.1 79.3 406.5 79.0 408.0 78.6 409.4 78.2 410.8 77.8 412.2 77.3 413.6 76.9 415.1 76.4 416.5 75.8 417.9 75.3 419.3 74.7 420.7 74.1 422.1 73.5 423.4 72.9 424.8 72.2 426.2 71.6 427.6 70.9 429.0 70.3 430.4 69.6 431.7 68.9 433.1 68.3 434.5 67.6 435.9 67.0 437.3 66.4 438.6 65.7 440.0 65.1 441.4 64.6 442.8 64.0 444.2 63.5 445.6 63.0 447.0 62.6 448.5 62.1 449.9 61.7 451.3 61.4 452.8 61.1 454.2 60.8 455.6 60.5 457.1 60.3 458.6 60.0 460.0 59.9 461.5 59.7 463.0 59.5 464.4 59.4 465.9 59.2 467.4 59.1 468.9 59.0 470.3 58.9 471.8 58.8 473.3 58.6 474.8 58.5 476.3 58.4 477.8 58.3 479.3 58.2 480.8 58.0 482.3 57.9 483.8 57.8 485.3 57.6 486.8 57.4 488.3 57.3 489.7 57.1 491.2 56.9 492.7 56.7 494.2 56.5 495.7 56.3 497.2 56.1 498.7 55.9 500.2 55.7 501.7 55.5 503.2 55.3 504.7 55.1 506.2 54.9 507.7 54.8 509.2 54.6 510.7 54.4 512.2 54.2 513.7 54.0 515.2 53.8 516.7 53.7 518.2 53.5 519.7 53.3 521.1 53.2 522.6 53.0 524.1 52.9 525.6 52.8 527.1 52.7 528.6 52.6 530.1 52.5 531.6 52.4 533.1 52.3 534.5 52.3 536.0 52.2 537.5 52.2 539.0 52.2 540.5 52.2 541.9 52.2"/>
<path stroke="#7D4E4E" d="M136.5 372.0L137.0 370.5 137.3 369.0 137.7 367.6 138.1 366.1 138.5 364.6 138.8 363.2 139.1 361.7 139.5 360.2 139.8 358.8 140.1 357.3 140.4 355.8 140.7 354.4 141.0 352.9 141.3 351.4 141.6 350.0 141.9 348.5 142.2 347.0 142.5 345.6 142.7 344.1 143.0 342.6 143.3 341.2 143.6 339.7 143.8 338.2 144.1 336.8 144.4 335.3 144.7 333.9 144.9 332.4 145.2 330.9 145.5 329.5 145.8 328.0 146.1 326.5 146.3 325.1 146.6 323.6 146.9 322.2 147.2 320.7 147.6 319.2 147.9 317.8 148.2 316.3 148.5 314.9 148.9 313.4 149.2 312.0 149.6 310.5 150.0 309.0 150.3 307.6 150.7 306.1 151.1 304.7 151.5 303.2 151.9 301.8 152.3 300.3 152.7 298.9 153.1 297.4 153.5 295.9 153.9 294.5 154.4 293.0 154.8 291.6 155.2 290.1 155.7 288.7 156.1 287.2 156.5 285.8 157.0 284.3 157.4 282.9 157.8 281.4 158.3 280.0 158.7 278.6 159.1 277.1 159.6 275.7 160.0 274.2 160.4 272.8 160.8 271.3 161.3 269.9 161.7 268.4 162.1 267.0 162.5 265.6 162.9 264.1 163.3 262.7 163.7 261.2 164.1 259.8 164.5 258.4 164.9 256.9 165.3 255.5 165.7 254.1 166.1 252.6 166.5 251.2 166.9 249.8 167.3 248.3 167.7 246.9 168.1 245.5 168.5 244.0 168.9 242.6 169.3 241.2 169.7 239.7 170.1 238.3 170.5 236.9 170.9 235.5 171.4 234.0 171.8 232.6 172.2 231.2 172.6 229.8 173.0 228.3 173.5 226.9 173.9 225.5 174.3 224.1 174.8 222.7 175.2 221.2 175.7 219.8 176.1 218.4 176.6 217.0 177.1 215.6 177.5 214.2 178.0 212.7 178.5 211.3 179.0 209.9 179.5 208.5 180.0 207.1 180.5 205.7 181.1 204.3 181.6 202.9 182.1 201.5 182.7 200.1 183.2 198.7 183.8 197.3 184.3 195.9 184.9 194.5 185.4 193.1 186.0 191.7 186.6 190.3 187.2 188.9 187.7 187.5 188.3 186.1 188.9 184.7 189.5 183.3 190.1 181.9 190.7 180.5 191.3 179.1 191.9 177.7 192.5 176.3 193.1 174.9 193.7 173.5 194.3 172.2 194.9 170.8 195.5 169.4 196.1 168.0 196.7 166.6 197.3 165.3 197.9 163.9 198.5 162.5 199.1 161.1 199.7 159.7 200.3 158.4 200.9 157.0 201.5 155.6 202.1 154.3 202.6 152.9 203.2 151.5 203.8 150.1 204.4 148.8 205.0 147.4 205.6 146.1 206.2 144.7 206.9 143.3 207.5 142.0 208.1 140.6 208.7 139.3 209.4 138.0 210.0 136.6 210.7 135.3 211.4 134.0 212.1 132.7 212.8 131.4 213.6 130.2 214.4 128.9 215.2 127.6 216.0 126.4 216.8 125.2 217.7 124.0 218.6 122.8 219.6 121.6 220.5 120.4 221.5 119.3 222.5 118.2 223.5 117.1 224.6 116.0 225.6 114.9 226.7 113.9 227.7 112.8 228.8 111.8 229.9 110.8 231.0 109.8 232.1 108.9 233.2 107.9 234.4 107.0 235.5 106.0 236.7 105.1 237.9 104.2 239.1 103.3 240.3 102.4 241.5 101.5 242.7 100.6 243.9 99.7 245.2 98.8 246.4 98.0 247.7 97.1 249.0 96.3 250.2 95.4 251.5 94.6 252.8 93.8 254.2 93.0 255.5 92.3 256.8 91.6 258.2 90.8 259.5 90.2 260.9 89.5 262.3 88.9 263.6 88.3 265.0 87.7 266.4 87.2 267.8 86.7 269.2 86.3 270.6 85.8 272.1 85.5 273.5 85.1 274.9 84.8 276.4 84.5 277.8 84.3 279.3 84.0 280.7 83.8 282.2 83.7 283.6 83.5 285.1 83.4 286.6 83.3 288.1 83.3 289.5 83.3 291.0 83.3 292.5 83.3 294.0 83.3 295.5 83.4 297.0 83.5 298.5 83.6 300.0 83.7 301.5 83.9 302.9 84.1 304.4 84.4 305.9 84.7 307.3 85.0 308.8 85.4 310.2 85.8 311.7 86.2 313.1 86.7 314.5 87.3 315.8 87.9 317.2 88.5 318.6 89.2 319.9 89.8 321.3 90.5 322.6 91.2 324.0 91.9 325.3 92.6 326.7 93.3 328.0 94.0 329.4 94.6 330.8 95.3 332.2 95.8 333.6 96.3 335.0 96.8 336.4 97.2 337.9 97.5 339.3 97.8 340.8 98.0 342.3 98.1 343.8 98.1 345.3 98.0 346.7 97.9 348.2 97.7 349.7 97.5 351.2 97.1 352.6 96.8 354.0 96.4 355.5 95.9 356.9 95.4 358.3 94.9 359.6 94.3 361.0 93.7 362.4 93.1 363.8 92.5 365.1 91.9 366.4 91.2 367.8 90.5 369.1 89.9 370.4 89.2 371.7 88.6 373.1 87.9 374.4 87.3 375.7 86.6 377.0 85.9 378.3 85.2 379.5 84.6 380.8 83.8 382.1 83.1 383.4 82.4 384.7 81.6 386.0 80.8 387.2 80.0 388.5 79.2 389.8 78.3 391.1 77.5 392.4 76.6 393.7 75.8 395.0 74.9 396.3 74.1 397.6 73.3 398.9 72.5 400.2 71.7 401.5 70.9 402.8 70.1 404.1 69.4 405.5 68.7 406.8 67.9 408.2 67.3 409.5 66.6 410.9 65.9 412.2 65.3 413.6 64.7 414.9 64.1 416.3 63.5 417.7 63.0 419.1 62.4 420.4 61.9 421.8 61.4 423.2 60.9 424.6 60.4 426.0 60.0 427.4 59.5 428.8 59.1 430.3 58.7 431.7 58.3 433.1 57.9 434.5 57.6 436.0 57.2 437.4 56.9 438.8 56.6 440.3 56.3 441.7 56.0 443.2 55.8 444.6 55.5 446.1 55.3 447.6 55.1 449.0 54.9 450.5 54.7 452.0 54.5 453.4 54.4 454.9 54.2 456.4 54.1 457.9 54.0 459.4 53.9 460.9 53.8 462.4 53.7 463.9 53.7 465.4 53.6 466.9 53.6 468.4 53.6 469.9 53.5 471.4 53.5 472.9 53.5 474.4 53.5 475.9 53.5 477.4 53.6 478.9 53.6 480.4 53.6 482.0 53.7 483.5 53.7 485.0 53.8 486.5 53.8 488.0 53.9 489.5 53.9 491.1 54.0 492.6 54.1 494.1 54.2 495.6 54.2 497.1 54.3 498.6 54.4 500.2 54.5 501.7 54.6 503.2 54.7 504.7 54.8 506.2 54.9 507.7 54.9 509.2 55.0 510.7 55.1 512.3 55.2 513.8 55.3 515.3 55.4 516.8 55.4 518.3 55.5 519.8 55.6 521.3 55.6 522.8 55.7 524.2 55.8 525.7 55.8 527.2 55.9 528.7 55.9 530.2 55.9 531.7 55.9 533.1 56.0 534.6 56.0 536.1 56.0 537.5 56.0 539.0 55.9 540.4 55.9 541.9 55.9"/>
<path stroke="#8E8E00" d="M155.8 371.9L156.0 370.4 156.3 369.0 156.5 367.5 156.8 366.1 157.1 364.6 157.3 363.2 157.6 361.7 157.9 360.2 158.1 358.8 158.4 357.3 158.7 355.9 158.9 354.4 159.2 353.0 159.5 351.5 159.8 350.0 160.0 348.6 160.3 347.1 160.6 345.7 160.9 344.2 161.2 342.7 161.4 341.3 161.7 339.8 162.0 338.3 162.3 336.9 162.6 335.4 162.9 333.9 163.2 332.5 163.5 331.0 163.7 329.5 164.0 328.1 164.3 326.6 164.6 325.1 164.9 323.6 165.2 322.2 165.5 320.7 165.8 319.2 166.1 317.8 166.4 316.3 166.7 314.8 167.0 313.3 167.3 311.9 167.7 310.4 168.0 308.9 168.3 307.5 168.6 306.0 168.9 304.5 169.2 303.0 169.5 301.6 169.8 300.1 170.1 298.6 170.5 297.1 170.8 295.7 171.1 294.2 171.4 292.7 171.7 291.2 172.1 289.8 172.4 288.3 172.7 286.8 173.0 285.3 173.3 283.9 173.7 282.4 174.0 280.9 174.3 279.4 174.6 278.0 175.0 276.5 175.3 275.0 175.6 273.6 176.0 272.1 176.3 270.6 176.6 269.1 177.0 267.7 177.3 266.2 177.6 264.7 178.0 263.3 178.3 261.8 178.6 260.3 179.0 258.9 179.3 257.4 179.6 255.9 180.0 254.5 180.3 253.0 180.6 251.5 181.0 250.1 181.3 248.6 181.7 247.1 182.0 245.7 182.4 244.2 182.7 242.8 183.0 241.3 183.4 239.8 183.7 238.4 184.1 236.9 184.4 235.5 184.8 234.0 185.1 232.5 185.5 231.1 185.9 229.6 186.2 228.2 186.6 226.7 186.9 225.3 187.3 223.8 187.7 222.4 188.0 220.9 188.4 219.5 188.8 218.0 189.2 216.6 189.5 215.2 189.9 213.7 190.3 212.3 190.7 210.8 191.1 209.4 191.5 208.0 191.9 206.5 192.3 205.1 192.7 203.7 193.1 202.2 193.5 200.8 193.9 199.4 194.3 197.9 194.8 196.5 195.2 195.1 195.6 193.7 196.1 192.2 196.5 190.8 196.9 189.4 197.4 188.0 197.8 186.6 198.3 185.1 198.8 183.7 199.2 182.3 199.7 180.9 200.2 179.5 200.7 178.1 201.2 176.7 201.7 175.3 202.2 173.9 202.7 172.5 203.2 171.1 203.7 169.7 204.2 168.3 204.7 166.9 205.3 165.5 205.8 164.1 206.4 162.7 206.9 161.3 207.5 159.9 208.0 158.6 208.6 157.2 209.2 155.8 209.8 154.4 210.4 153.1 211.0 151.7 211.6 150.3 212.2 148.9 212.8 147.6 213.4 146.2 214.1 144.9 214.7 143.5 215.4 142.1 216.0 140.8 216.7 139.4 217.4 138.1 218.1 136.7 218.7 135.4 219.4 134.0 220.2 132.7 220.9 131.4 221.6 130.0 222.3 128.7 223.1 127.4 223.9 126.1 224.6 124.8 225.4 123.5 226.2 122.2 227.0 120.9 227.8 119.6 228.6 118.3 229.5 117.1 230.3 115.8 231.1 114.6 232.0 113.3 232.9 112.1 233.7 110.9 234.6 109.7 235.5 108.5 236.5 107.4 237.4 106.2 238.4 105.1 239.4 104.0 240.4 102.9 241.4 101.9 242.4 100.9 243.5 99.9 244.6 98.9 245.7 97.9 246.9 97.0 248.0 96.1 249.2 95.3 250.4 94.5 251.6 93.7 252.9 92.9 254.1 92.2 255.4 91.4 256.7 90.6 258.0 89.9 259.3 89.1 260.6 88.3 261.9 87.5 263.3 86.8 264.7 86.1 266.1 85.5 267.5 85.0 268.9 84.5 270.3 84.1 271.7 83.7 273.2 83.4 274.6 83.1 276.1 82.9 277.6 82.7 279.1 82.5 280.6 82.3 282.1 82.1 283.6 82.0 285.1 81.9 286.6 81.8 288.1 81.8 289.6 81.7 291.2 81.6 292.7 81.6 294.2 81.6 295.7 81.5 297.2 81.5 298.7 81.5 300.2 81.5 301.7 81.4 303.2 81.4 304.7 81.4 306.2 81.4 307.7 81.4 309.2 81.5 310.7 81.5 312.1 81.6 313.6 81.6 315.1 81.7 316.6 81.8 318.0 81.9 319.5 82.1 321.0 82.2 322.4 82.4 323.9 82.6 325.4 82.7 326.8 82.9 328.3 83.0 329.7 83.0 331.2 83.0 332.6 83.0 334.1 82.8 335.5 82.6 337.0 82.3 338.4 81.9 339.9 81.4 341.3 81.0 342.8 80.5 344.2 80.0 345.7 79.5 347.1 79.0 348.6 78.6 350.0 78.2 351.5 77.9 352.9 77.6 354.4 77.2 355.8 76.9 357.3 76.5 358.7 76.0 360.2 75.6 361.6 75.1 363.1 74.6 364.5 74.1 366.0 73.5 367.4 73.0 368.9 72.5 370.3 72.0 371.8 71.5 373.2 71.0 374.7 70.5 376.2 70.0 377.6 69.6 379.1 69.2 380.5 68.9 382.0 68.6 383.5 68.3 384.9 68.1 386.4 67.9 387.9 67.8 389.3 67.7 390.8 67.7 392.2 67.6 393.7 67.6 395.2 67.6 396.6 67.6 398.1 67.6 399.6 67.6 401.1 67.6 402.5 67.5 404.0 67.5 405.5 67.4 406.9 67.3 408.4 67.2 409.9 67.1 411.4 67.0 412.8 66.8 414.3 66.7 415.8 66.5 417.3 66.3 418.7 66.2 420.2 66.0 421.7 65.8 423.2 65.6 424.7 65.3 426.1 65.1 427.6 64.9 429.1 64.7 430.6 64.4 432.1 64.2 433.5 63.9 435.0 63.7 436.5 63.4 438.0 63.1 439.5 62.9 441.0 62.6 442.4 62.3 443.9 62.0 445.4 61.8 446.9 61.5 448.4 61.2 449.9 60.9 451.4 60.6 452.8 60.4 454.3 60.1 455.8 59.8 457.3 59.5 458.8 59.3 460.3 59.0 461.8 58.8 463.3 58.5 464.7 58.2 466.2 58.0 467.7 57.8 469.2 57.5 470.7 57.3 472.2 57.1 473.7 56.9 475.2 56.7 476.6 56.5 478.1 56.3 479.6 56.2 481.1 56.0 482.6 55.9 484.1 55.8 485.6 55.7 487.1 55.6 488.5 55.5 490.0 55.5 491.5 55.5 493.0 55.4 494.5 55.5 496.0 55.5 497.5 55.5 499.0 55.6 500.4 55.7 501.9 55.8 503.4 55.9 504.9 56.1 506.4 56.3 507.9 56.5 509.4 56.7 510.8 57.0 512.3 57.3 513.8 57.6 515.3 58.0 516.8 58.3 518.3 58.6 519.7 59.0 521.2 59.3 522.7 59.7 524.2 60.0 525.7 60.3 527.2 60.6 528.6 60.9 530.1 61.1 531.6 61.3 533.1 61.5 534.6 61.6 536.0 61.7 537.5 61.7 539.0 61.7 540.5 61.6 541.9 61.5"/>
<path stroke="#FB6501" d="M138.3 372.0L138.6 370.5 138.9 369.1 139.2 367.6 139.6 366.1 139.9 364.7 140.2 363.2 140.6 361.8 140.9 360.3 141.2 358.8 141.5 357.4 141.8 355.9 142.2 354.5 142.5 353.0 142.8 351.5 143.1 350.1 143.4 348.6 143.7 347.1 144.0 345.7 144.3 344.2 144.7 342.7 145.0 341.3 145.3 339.8 145.6 338.3 145.9 336.9 146.2 335.4 146.5 333.9 146.8 332.5 147.1 331.0 147.4 329.5 147.7 328.1 148.0 326.6 148.3 325.1 148.7 323.6 149.0 322.2 149.3 320.7 149.6 319.2 149.9 317.8 150.2 316.3 150.5 314.8 150.8 313.4 151.1 311.9 151.4 310.4 151.8 308.9 152.1 307.5 152.4 306.0 152.7 304.5 153.0 303.1 153.3 301.6 153.7 300.1 154.0 298.7 154.3 297.2 154.6 295.7 155.0 294.3 155.3 292.8 155.6 291.3 156.0 289.9 156.3 288.4 156.6 287.0 157.0 285.5 157.3 284.0 157.7 282.6 158.0 281.1 158.4 279.7 158.7 278.2 159.1 276.7 159.4 275.3 159.8 273.8 160.1 272.4 160.5 270.9 160.9 269.5 161.3 268.0 161.6 266.6 162.0 265.1 162.4 263.7 162.8 262.2 163.2 260.8 163.6 259.3 163.9 257.9 164.3 256.4 164.7 255.0 165.2 253.6 165.6 252.1 166.0 250.7 166.4 249.2 166.8 247.8 167.2 246.4 167.7 244.9 168.1 243.5 168.5 242.1 169.0 240.7 169.4 239.2 169.9 237.8 170.3 236.4 170.8 234.9 171.2 233.5 171.7 232.1 172.1 230.7 172.6 229.3 173.1 227.8 173.6 226.4 174.0 225.0 174.5 223.6 175.0 222.2 175.5 220.7 175.9 219.3 176.4 217.9 176.9 216.5 177.4 215.1 177.9 213.7 178.4 212.2 178.9 210.8 179.4 209.4 179.9 208.0 180.4 206.6 180.9 205.2 181.4 203.8 181.9 202.3 182.4 200.9 182.9 199.5 183.4 198.1 183.9 196.7 184.4 195.3 184.9 193.8 185.5 192.4 186.0 191.0 186.5 189.6 187.0 188.2 187.5 186.8 188.0 185.3 188.6 183.9 189.1 182.5 189.6 181.1 190.1 179.7 190.6 178.3 191.2 176.8 191.7 175.4 192.3 174.0 192.8 172.6 193.4 171.2 193.9 169.8 194.5 168.4 195.0 167.0 195.6 165.6 196.2 164.3 196.8 162.9 197.4 161.5 198.0 160.1 198.6 158.8 199.2 157.4 199.9 156.0 200.5 154.7 201.2 153.4 201.8 152.0 202.5 150.7 203.2 149.4 203.9 148.0 204.6 146.7 205.3 145.4 206.1 144.1 206.8 142.9 207.6 141.6 208.4 140.3 209.1 139.1 210.0 137.8 210.8 136.6 211.6 135.3 212.5 134.1 213.3 132.9 214.2 131.7 215.1 130.5 216.0 129.3 217.0 128.2 217.9 127.0 218.9 125.9 219.9 124.7 220.9 123.6 221.9 122.5 222.9 121.4 223.9 120.4 225.0 119.3 226.1 118.3 227.1 117.3 228.2 116.2 229.3 115.3 230.5 114.3 231.6 113.3 232.7 112.4 233.9 111.5 235.1 110.6 236.3 109.7 237.4 108.8 238.6 107.9 239.9 107.1 241.1 106.2 242.3 105.4 243.5 104.6 244.8 103.8 246.1 103.0 247.3 102.2 248.6 101.4 249.9 100.6 251.2 99.8 252.5 99.0 253.8 98.3 255.1 97.5 256.4 96.8 257.7 96.0 259.1 95.3 260.4 94.6 261.8 93.9 263.1 93.2 264.5 92.5 265.8 91.8 267.2 91.1 268.6 90.5 270.0 89.9 271.3 89.3 272.7 88.7 274.1 88.1 275.5 87.5 276.9 87.0 278.4 86.5 279.8 86.0 281.2 85.5 282.6 85.0 284.1 84.6 285.5 84.2 286.9 83.8 288.4 83.5 289.8 83.1 291.3 82.8 292.7 82.6 294.2 82.3 295.6 82.1 297.1 81.9 298.5 81.8 300.0 81.7 301.5 81.6 302.9 81.5 304.4 81.5 305.9 81.6 307.3 81.6 308.8 81.7 310.3 81.9 311.8 82.0 313.3 82.2 314.7 82.4 316.2 82.6 317.7 82.8 319.2 83.1 320.7 83.4 322.2 83.6 323.6 83.9 325.1 84.2 326.6 84.5 328.1 84.8 329.6 85.1 331.1 85.4 332.6 85.7 334.1 85.9 335.6 86.2 337.1 86.5 338.6 86.7 340.1 87.0 341.6 87.2 343.1 87.4 344.6 87.7 346.1 87.9 347.6 88.0 349.1 88.2 350.6 88.4 352.1 88.5 353.5 88.7 355.0 88.8 356.5 88.9 358.0 89.0 359.5 89.0 361.0 89.1 362.5 89.1 364.0 89.1 365.5 89.1 367.0 89.1 368.5 89.0 370.0 88.9 371.4 88.8 372.9 88.6 374.4 88.5 375.8 88.3 377.3 88.0 378.8 87.8 380.2 87.5 381.7 87.2 383.1 86.8 384.5 86.4 386.0 86.0 387.4 85.6 388.8 85.1 390.2 84.6 391.6 84.0 393.0 83.5 394.4 82.9 395.8 82.3 397.2 81.7 398.5 81.0 399.9 80.3 401.2 79.6 402.6 78.9 403.9 78.2 405.2 77.5 406.5 76.7 407.8 76.0 409.1 75.2 410.4 74.5 411.8 73.7 413.1 72.9 414.4 72.2 415.7 71.4 417.0 70.7 418.3 70.0 419.6 69.2 420.9 68.5 422.2 67.8 423.6 67.2 424.9 66.5 426.3 65.9 427.6 65.3 429.0 64.7 430.4 64.2 431.8 63.6 433.2 63.1 434.6 62.7 436.0 62.2 437.4 61.8 438.9 61.4 440.3 61.0 441.8 60.7 443.2 60.4 444.7 60.1 446.1 59.8 447.6 59.5 449.1 59.2 450.6 59.0 452.1 58.8 453.5 58.6 455.0 58.4 456.5 58.2 458.0 58.0 459.5 57.9 461.0 57.7 462.5 57.6 464.0 57.5 465.5 57.3 467.0 57.2 468.5 57.1 470.0 57.0 471.5 57.0 473.0 56.9 474.5 56.8 476.0 56.8 477.5 56.7 479.0 56.7 480.5 56.6 482.0 56.6 483.5 56.6 485.0 56.6 486.5 56.6 488.0 56.5 489.5 56.5 491.0 56.5 492.5 56.5 494.0 56.5 495.5 56.6 497.0 56.6 498.5 56.6 500.0 56.6 501.5 56.6 503.0 56.6 504.5 56.7 506.0 56.7 507.5 56.7 509.0 56.7 510.5 56.7 512.0 56.8 513.5 56.8 515.0 56.8 516.6 56.8 518.1 56.8 519.6 56.8 521.1 56.9 522.6 56.9 524.0 56.9 525.5 56.9 527.0 56.9 528.5 56.8 530.0 56.8 531.5 56.8 533.0 56.8 534.5 56.7 536.0 56.7 537.5 56.7 539.0 56.6 540.5 56.6 542.0 56.5"/>
</g>
<path d="M59.8 364.5V370.7M107.8 364.5V370.7M155.7 364.5V370.7M203.6 364.5V370.7M251.6 364.5V370.7M299.5 364.5V370.7M347.5 364.5V370.7M395.4 364.5V370.7M443.4 364.5V370.7M491.3 364.5V370.7M539.3 364.5V370.7M83.8 364.5V367.7M131.7 364.5V367.7M179.7 364.5V367.7M227.6 364.5V367.7M275.6 364.5V367.7M323.5 364.5V367.7M371.5 364.5V367.7M419.4 364.5V367.7M467.4 364.5V367.7M515.3 364.5V367.7M59.8 364.5H53.4M59.8 338.1H56.4M59.8 322.7H56.4M59.8 311.8H56.4M59.8 303.3H56.4M59.8 296.4H56.4M59.8 290.5H56.4M59.8 285.4H56.4M59.8 280.9H56.4M59.8 276.9H53.4M59.8 250.6H56.4M59.8 235.1H56.4M59.8 224.2H56.4M59.8 215.7H56.4M59.8 208.8H56.4M59.8 202.9H56.4M59.8 197.8H56.4M59.8 193.4H56.4M59.8 189.3H53.4M59.8 163.0H56.4M59.8 147.6H56.4M59.8 136.6H56.4M59.8 128.1H56.4M59.8 121.2H56.4M59.8 115.3H56.4M59.8 110.3H56.4M59.8 105.8H56.4M59.8 101.8H53.4M59.8 75.4H56.4M59.8 60.0H56.4M59.8 49.0H56.4M59.8 40.6H56.4M59.8 33.6H56.4M59.8 27.8H56.4M59.8 22.7H56.4M59.8 18.2H56.4M59.8 14.2H53.4" stroke="#000" stroke-width="2.2" fill="none"/>
<rect x="59.8" y="14.2" width="479.5" height="350.3" fill="none" stroke="#000" stroke-width="2.3"/>
<text transform="translate(60.0,387.8) scale(0.88,1)" class="t" font-size="16" text-anchor="middle">0</text>
<text transform="translate(108.0,387.8) scale(0.88,1)" class="t" font-size="16" text-anchor="middle">1</text>
<text transform="translate(155.9,387.8) scale(0.88,1)" class="t" font-size="16" text-anchor="middle">2</text>
<text transform="translate(203.8,387.8) scale(0.88,1)" class="t" font-size="16" text-anchor="middle">3</text>
<text transform="translate(251.8,387.8) scale(0.88,1)" class="t" font-size="16" text-anchor="middle">4</text>
<text transform="translate(299.7,387.8) scale(0.88,1)" class="t" font-size="16" text-anchor="middle">5</text>
<text transform="translate(347.7,387.8) scale(0.88,1)" class="t" font-size="16" text-anchor="middle">6</text>
<text transform="translate(395.6,387.8) scale(0.88,1)" class="t" font-size="16" text-anchor="middle">7</text>
<text transform="translate(443.6,387.8) scale(0.88,1)" class="t" font-size="16" text-anchor="middle">8</text>
<text transform="translate(491.5,387.8) scale(0.88,1)" class="t" font-size="16" text-anchor="middle">9</text>
<text transform="translate(539.5,387.8) scale(0.88,1)" class="t" font-size="16" text-anchor="middle">10</text>
<text transform="translate(42.1,370.4) scale(0.9,1)" class="t" font-size="15.3" text-anchor="end">10</text>
<text transform="translate(43.8,364.4) scale(0.95,1)" class="t" font-size="10">1</text>
<text transform="translate(42.1,282.8) scale(0.9,1)" class="t" font-size="15.3" text-anchor="end">10</text>
<text transform="translate(43.8,276.8) scale(0.95,1)" class="t" font-size="10">2</text>
<text transform="translate(42.1,195.2) scale(0.9,1)" class="t" font-size="15.3" text-anchor="end">10</text>
<text transform="translate(43.8,189.2) scale(0.95,1)" class="t" font-size="10">3</text>
<text transform="translate(42.1,107.7) scale(0.9,1)" class="t" font-size="15.3" text-anchor="end">10</text>
<text transform="translate(43.8,101.7) scale(0.95,1)" class="t" font-size="10">4</text>
<text transform="translate(42.1,20.1) scale(0.9,1)" class="t" font-size="15.3" text-anchor="end">10</text>
<text transform="translate(43.8,14.1) scale(0.95,1)" class="t" font-size="10">5</text>
<text x="299.6" y="409.6" class="t" font-size="16.5" text-anchor="middle">Frequency (eV)</text>
<g transform="translate(22.9,183.9) rotate(-90)"><text x="0" y="0" class="t" font-size="16.7" text-anchor="middle">Absorption (cm<tspan font-size="10.5" dy="-7.3">&#8722;1</tspan><tspan dy="7.3">)</tspan></text></g>
<rect x="329.0" y="235.0" width="67.0" height="115.0" fill="#fff" stroke="#7a7a7a" stroke-width="1.1"/>
<path d="M329.4 241.2H351" stroke="#515151" stroke-width="2.7"/>
<text transform="translate(353.2,244.6) scale(0.93,1)" class="t" font-size="9.4">NH4</text>
<path d="M329.4 252.6H351" stroke="#F14040" stroke-width="2.7"/>
<text transform="translate(353.2,256.0) scale(0.93,1)" class="t" font-size="9.4">PH4</text>
<path d="M329.4 264.1H351" stroke="#1A6FDF" stroke-width="2.7"/>
<text transform="translate(353.2,267.5) scale(0.93,1)" class="t" font-size="9.4">NH3OH</text>
<path d="M329.4 275.5H351" stroke="#37AD6B" stroke-width="2.7"/>
<text transform="translate(353.2,278.9) scale(0.93,1)" class="t" font-size="9.4">Li3O</text>
<path d="M329.4 287.0H351" stroke="#B177DE" stroke-width="2.7"/>
<text transform="translate(353.2,290.4) scale(0.93,1)" class="t" font-size="9.4">Li3S</text>
<path d="M329.4 298.4H351" stroke="#CC9900" stroke-width="2.7"/>
<text transform="translate(353.2,301.8) scale(0.93,1)" class="t" font-size="9.4">Ch3NH3</text>
<path d="M329.4 309.9H351" stroke="#00CBCC" stroke-width="2.7"/>
<text transform="translate(353.2,313.3) scale(0.93,1)" class="t" font-size="9.4">CH[NH3]2</text>
<path d="M329.4 321.3H351" stroke="#7D4E4E" stroke-width="2.7"/>
<text transform="translate(353.2,324.7) scale(0.93,1)" class="t" font-size="9.4">Ace</text>
<path d="M329.4 332.8H351" stroke="#8E8E00" stroke-width="2.7"/>
<text transform="translate(353.2,336.2) scale(0.93,1)" class="t" font-size="9.4">Gu</text>
<path d="M329.4 344.2H351" stroke="#FB6501" stroke-width="2.7"/>
<text transform="translate(353.2,347.6) scale(0.93,1)" class="t" font-size="9.4">GaAs</text>
</svg>
</body></html>
